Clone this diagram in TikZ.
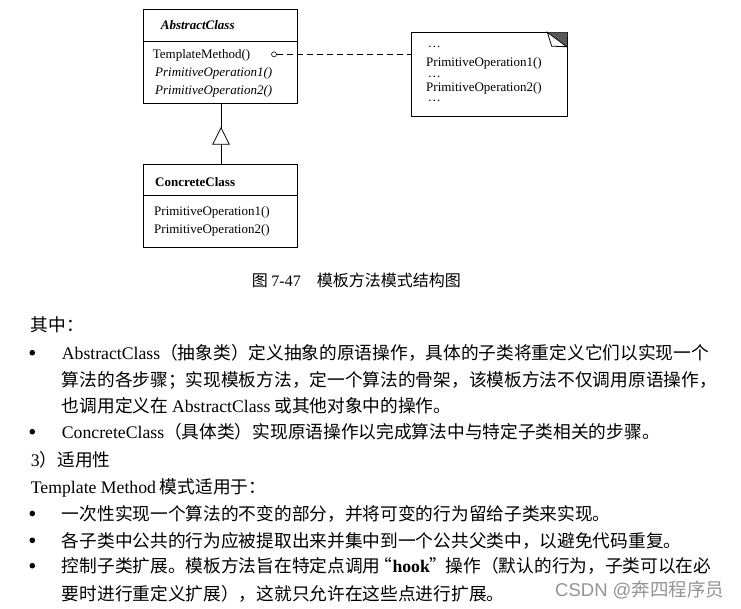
\documentclass[tikz,border=0pt]{standalone}
\usepackage{fontspec}
\setmainfont{Noto Sans CJK SC}
\newfontfamily\latin{Liberation Serif}
\newfontfamily\latinsans{Liberation Sans}
\usetikzlibrary{calc}
\newcommand\umlfont{\latin\fontsize{13}{15}\selectfont}
\newcommand\bodyfont{\fontsize{17.7}{21}\selectfont}

\begin{document}
\begin{tikzpicture}[x=1pt,y=-1pt,
    box/.style={draw,line width=0.8pt,inner sep=0pt,anchor=north west},
    umltext/.style={font=\umlfont,inner sep=0pt,anchor=base west},
    bodytext/.style={font=\bodyfont,inner sep=0pt,anchor=base west},
    bullet/.style={circle,fill,inner sep=0pt,minimum size=5.6pt}]
    \useasboundingbox (0,0) rectangle (741,609);
    % class boxes
    \node[box,minimum width=154,minimum height=94] (abs) at (142.7,9) {};
    \draw[line width=0.8pt] ($(abs.north west)+(0,32.7)$) -- ($(abs.north east)+(0,32.7)$);
    \node[umltext,font=\umlfont\bfseries\itshape] (absname) at (160.7,29.6) {AbstractClass};
    \node[umltext] (tm) at (152.7,58.3) {TemplateMethod()};
    \node[umltext,font=\umlfont\itshape] (absop1) at (155,76.7) {PrimitiveOperation1()};
    \node[umltext,font=\umlfont\itshape] (absop2) at (155,94.7) {PrimitiveOperation2()};

    \node[box,minimum width=154,minimum height=82.4] (con) at (142.7,164.3) {};
    \draw[line width=0.8pt] ($(con.north west)+(0,30.7)$) -- ($(con.north east)+(0,30.7)$);
    \node[umltext,font=\umlfont\bfseries] (conname) at (155,186.3) {ConcreteClass};
    \node[umltext] (conop1) at (154,215.7) {PrimitiveOperation1()};
    \node[umltext] (conop2) at (154,234) {PrimitiveOperation2()};

    % inheritance
    \coordinate (tritop) at (221,127.7);
    \coordinate (tribase) at (221,144.3);
    \draw[line width=0.8pt] (tritop |- abs.south) -- (tritop);
    \draw[line width=0.8pt,fill=white] (tritop) -- ($(tribase)+(8.3,0)$) -- ($(tribase)+(-8.3,0)$) -- cycle;
    \draw[line width=0.8pt] (tribase) -- (tribase |- con.north);

    % note
    \node[box,minimum width=155.7,minimum height=83.4] (note) at (411,32.3) {};
    \fill[black!65] (547.3,32.3) -- (note.north east) -- (566.7,46.7) -- cycle;
    \draw[line width=0.8pt,fill=white] (547.3,32.3) -- (551.7,46.2) -- (566.7,46.7) -- cycle;
    \node[font=\umlfont,inner sep=0pt,anchor=north west,align=left] (notetext) at (426,46)
        {\hspace*{1.7pt}…\\[4pt]PrimitiveOperation1()\\[-4pt]\hspace*{1.7pt}…\\[-1pt]PrimitiveOperation2()\\[-5pt]\hspace*{1.7pt}…};

    \node[circle,draw,fill=white,line width=0.6pt,inner sep=0pt,minimum size=5pt] (dot) at (274,54.3) {};
    \draw[line width=0.8pt,dash pattern=on 6pt off 4pt] (dot) -- (dot -| note.west);

    % caption
    \node[inner sep=0pt,anchor=base west,font=\fontsize{16}{18}\selectfont] (caption) at (251.7,286.3)
        {图 {\latin 7-47}\hspace{16pt}模板方法模式结构图};

    % text
    \node[bodytext] (l1) at (30.7,331.7) {其中：};
    \node[bullet] (b1) at (32.3,352.7) {};
    \node[bodytext] (l2) at (61.7,359.4) {{\latin AbstractClass}（抽象类）定义抽象的原语操作，具体的子类将重定义它们以实现一个};
    \node[bodytext] (l3) at (61.7,386.4) {算法的各步骤；实现模板方法，定一个算法的骨架，该模板方法不仅调用原语操作，};
    \node[bodytext] (l4) at (61.7,412.2) {也调用定义在 {\latin AbstractClass} 或其他对象中的操作。};
    \node[bullet] (b2) at (32.3,431.7) {};
    \node[bodytext] (l5) at (61.7,438.4) {{\latin ConcreteClass}（具体类）实现原语操作以完成算法中与特定子类相关的步骤。};
    \node[bodytext] (l6) at (30.7,466.2) {{\latin 3}）适用性};
    \node[bodytext] (l7) at (30.7,493.4) {{\latin Template Method} 模式适用于：};
    \node[bullet] (b3) at (32.3,513.5) {};
    \node[bodytext] (l8) at (61.7,520.2) {一次性实现一个算法的不变的部分，并将可变的行为留给子类来实现。};
    \node[bullet] (b4) at (32.3,540.3) {};
    \node[bodytext] (l9) at (61.7,547) {各子类中公共的行为应被提取出来并集中到一个公共父类中，以避免代码重复。};
    \node[bullet] (b5) at (32.3,565.7) {};
    \node[bodytext] (l10) at (61.7,572.4)
        {控制子类扩展。模板方法旨在特定点调用\makebox[12pt][r]{“}{\latin\bfseries hook}\makebox[12pt][l]{”} 操作（默认的行为，子类可以在必};
    \node[bodytext] (l11) at (61.7,600) {要时进行重定义扩展），这就只允许在这些点进行扩展。};

    % watermark
    \node[inner sep=0pt,anchor=base west,text=black!42,font=\fontsize{18.5}{20}\selectfont] (mark) at (555,596.8)
        {{\latinsans CSDN @}奔四程序员};
\end{tikzpicture}
\end{document}
